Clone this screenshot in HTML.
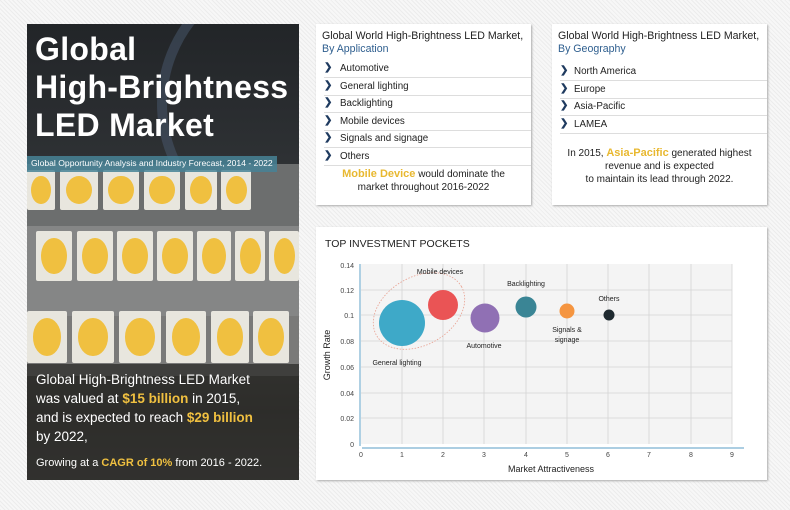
<!DOCTYPE html>
<html><head><style>
body{margin:0;width:790px;height:510px;overflow:hidden;font-family:"Liberation Sans",sans-serif;
background:repeating-linear-gradient(45deg,#ececec 0 1px,#f7f7f7 1px 3px);position:relative}
.abs{position:absolute}
.card{position:absolute;background:#fff;box-shadow:1px 1px 2px #aaa}
.hd{font-size:10.6px;color:#222;line-height:13px}
.hd span{color:#2f5f8f}
.li{position:absolute;left:8px;right:0;font-size:9.8px;color:#222;height:17px;border-bottom:1px solid #ddd}
.li b{position:absolute;left:0;top:2px;color:#1e3a5f;font-size:10px}
.li i{font-style:normal;position:absolute;left:16px;top:3px}
.led{position:absolute;background:#e8e6de;border-radius:2px}
.led:after{content:"";position:absolute;left:15%;top:14%;width:70%;height:72%;border-radius:50%;background:#f0c040}
</style></head><body>
<div class="abs" style="left:27px;top:24px;width:272px;height:456px;background:linear-gradient(#222528,#2e3134 30%,#5a5a58 60%,#3c3b38 85%,#4a4846);overflow:hidden">
 <div class="abs" style="left:130px;top:-60px;width:260px;height:260px;border-radius:50%;border:10px solid #4a5a70;opacity:.5"></div>
 <div class="abs" style="left:0;top:140px;width:272px;height:62px;background:#6c6e6e"></div>
 <div class="abs" style="left:0;top:202px;width:272px;height:90px;background:#858686"></div>
 <div class="abs" style="left:0;top:292px;width:272px;height:60px;background:#7a7a79"></div>
 <div class="led" style="left:0;top:146px;width:28px;height:40px"></div>
 <div class="led" style="left:33px;top:146px;width:38px;height:40px"></div>
 <div class="led" style="left:76px;top:146px;width:36px;height:40px"></div>
 <div class="led" style="left:117px;top:146px;width:36px;height:40px"></div>
 <div class="led" style="left:158px;top:146px;width:32px;height:40px"></div>
 <div class="led" style="left:194px;top:146px;width:30px;height:40px"></div>
 <div class="led" style="left:9px;top:207px;width:36px;height:50px"></div>
 <div class="led" style="left:50px;top:207px;width:36px;height:50px"></div>
 <div class="led" style="left:90px;top:207px;width:36px;height:50px"></div>
 <div class="led" style="left:130px;top:207px;width:36px;height:50px"></div>
 <div class="led" style="left:170px;top:207px;width:34px;height:50px"></div>
 <div class="led" style="left:208px;top:207px;width:30px;height:50px"></div>
 <div class="led" style="left:242px;top:207px;width:30px;height:50px"></div>
 <div class="led" style="left:0;top:287px;width:40px;height:52px"></div>
 <div class="led" style="left:45px;top:287px;width:42px;height:52px"></div>
 <div class="led" style="left:92px;top:287px;width:42px;height:52px"></div>
 <div class="led" style="left:139px;top:287px;width:40px;height:52px"></div>
 <div class="led" style="left:184px;top:287px;width:38px;height:52px"></div>
 <div class="led" style="left:226px;top:287px;width:36px;height:52px"></div>
 <div class="abs" style="left:0;top:340px;width:272px;height:116px;background:rgba(40,40,38,.72)"></div>
 <div class="abs" style="left:8px;top:6px;color:#fff;font-weight:bold;font-size:32px;line-height:38px;letter-spacing:0.3px">Global<br>High-Brightness<br>LED Market</div>
 <div class="abs" style="left:0;top:132px;width:250px;height:16px;background:rgba(70,130,150,.85)"></div>
 <div class="abs" style="left:4px;top:134px;color:#fff;font-size:8.6px">Global Opportunity Analysis and Industry Forecast, 2014 - 2022</div>
 <div class="abs" style="left:9px;top:346px;color:#fff;font-size:13.5px;line-height:19px">Global High-Brightness LED Market<br>was valued at <b style="color:#f0c040">$15 billion</b> in 2015,<br>and is expected to reach <b style="color:#f0c040">$29 billion</b><br>by 2022,</div>
 <div class="abs" style="left:9px;top:433px;color:#fff;font-size:11px">Growing at a <b style="color:#f0c040">CAGR of 10%</b> from 2016 - 2022.</div>
</div>
<div class="card" style="left:316px;top:24px;width:215px;height:181px">
 <div class="hd abs" style="left:6px;top:6px">Global World High-Brightness LED Market,<br><span>By Application</span></div>
 <div class="li" style="top:36px"><b>&#10095;</b><i>Automotive</i></div>
 <div class="li" style="top:54px"><b>&#10095;</b><i>General lighting</i></div>
 <div class="li" style="top:71px"><b>&#10095;</b><i>Backlighting</i></div>
 <div class="li" style="top:89px"><b>&#10095;</b><i>Mobile devices</i></div>
 <div class="li" style="top:106px"><b>&#10095;</b><i>Signals and signage</i></div>
 <div class="li" style="top:124px"><b>&#10095;</b><i>Others</i></div>
 <div class="abs" style="left:0;width:215px;top:144px;text-align:center;font-size:10px;line-height:13px;color:#222"><b style="color:#e8b830;font-size:11px">Mobile Device</b> would dominate the<br>market throughout 2016-2022</div>
</div>
<div class="card" style="left:552px;top:24px;width:215px;height:181px">
 <div class="hd abs" style="left:6px;top:6px">Global World High-Brightness LED Market,<br><span>By Geography</span></div>
 <div class="li" style="top:39px"><b>&#10095;</b><i style="left:14px">North America</i></div>
 <div class="li" style="top:57px"><b>&#10095;</b><i style="left:14px">Europe</i></div>
 <div class="li" style="top:74px"><b>&#10095;</b><i style="left:14px">Asia-Pacific</i></div>
 <div class="li" style="top:92px"><b>&#10095;</b><i style="left:14px">LAMEA</i></div>
 <div class="abs" style="left:0;width:215px;top:123px;text-align:center;font-size:10px;line-height:13px;color:#222">In 2015, <b style="color:#e8b830;font-size:11px">Asia-Pacific</b> generated highest<br>revenue and is expected<br>to maintain its lead through 2022.</div>
</div>
<div class="card" style="left:316px;top:227px;width:451px;height:253px"></div>
<svg class="abs" style="left:0;top:0" width="790" height="510" font-family="Liberation Sans, sans-serif">
 <text x="325" y="247" font-size="10.5" fill="#222">TOP INVESTMENT POCKETS</text>
 <rect x="361" y="264" width="371" height="180" fill="#f4f4f4"/>
 <g stroke="#d4d4d4" stroke-width="0.8">
  <line x1="402" y1="264" x2="402" y2="444"/><line x1="443" y1="264" x2="443" y2="444"/><line x1="484" y1="264" x2="484" y2="444"/><line x1="526" y1="264" x2="526" y2="444"/><line x1="567" y1="264" x2="567" y2="444"/><line x1="608" y1="264" x2="608" y2="444"/><line x1="649" y1="264" x2="649" y2="444"/><line x1="691" y1="264" x2="691" y2="444"/><line x1="732" y1="264" x2="732" y2="444"/>
  <line x1="361" y1="290" x2="732" y2="290"/><line x1="361" y1="315" x2="732" y2="315"/><line x1="361" y1="341" x2="732" y2="341"/><line x1="361" y1="367" x2="732" y2="367"/><line x1="361" y1="393" x2="732" y2="393"/><line x1="361" y1="418" x2="732" y2="418"/>
 </g>
 <line x1="360" y1="446" x2="360" y2="264" stroke="#7ab0d0" stroke-width="1.2"/>
 <line x1="362" y1="448" x2="744" y2="448" stroke="#7ab0d0" stroke-width="1.2"/>
 <g font-size="7" fill="#444" text-anchor="end">
  <text x="354" y="268">0.14</text><text x="354" y="293">0.12</text><text x="354" y="318">0.1</text><text x="354" y="344">0.08</text><text x="354" y="370">0.06</text><text x="354" y="396">0.04</text><text x="354" y="421">0.02</text><text x="354" y="447">0</text>
 </g>
 <g font-size="7" fill="#444" text-anchor="middle">
  <text x="361" y="457">0</text><text x="402" y="457">1</text><text x="443" y="457">2</text><text x="484" y="457">3</text><text x="526" y="457">4</text><text x="567" y="457">5</text><text x="608" y="457">6</text><text x="649" y="457">7</text><text x="691" y="457">8</text><text x="732" y="457">9</text>
 </g>
 <text x="551" y="472" font-size="9" fill="#222" text-anchor="middle">Market Attractiveness</text>
 <text transform="translate(330,355) rotate(-90)" font-size="9" fill="#222" text-anchor="middle">Growth Rate</text>
 <ellipse cx="419" cy="311" rx="49" ry="34" transform="rotate(-30 419 311)" fill="none" stroke="#e8a090" stroke-dasharray="1.5 1.5" stroke-width="0.8"/>
 <circle cx="402" cy="323" r="23" fill="#3ea9c8"/>
 <circle cx="443" cy="305" r="15" fill="#ea5455"/>
 <circle cx="485" cy="318" r="14.5" fill="#9070b4"/>
 <circle cx="526" cy="307" r="10.5" fill="#3a8595"/>
 <circle cx="567" cy="311" r="7.5" fill="#f59540"/>
 <circle cx="609" cy="315" r="5.5" fill="#1f2a30"/>
 <g font-size="7" fill="#222" text-anchor="middle">
  <text x="440" y="274">Mobile devices</text>
  <text x="526" y="286">Backlighting</text>
  <text x="609" y="301">Others</text>
  <text x="567" y="332">Signals &amp;</text><text x="567" y="342">signage</text>
  <text x="484" y="348">Automotive</text>
  <text x="397" y="365">General lighting</text>
 </g>
</svg>
</body></html>
